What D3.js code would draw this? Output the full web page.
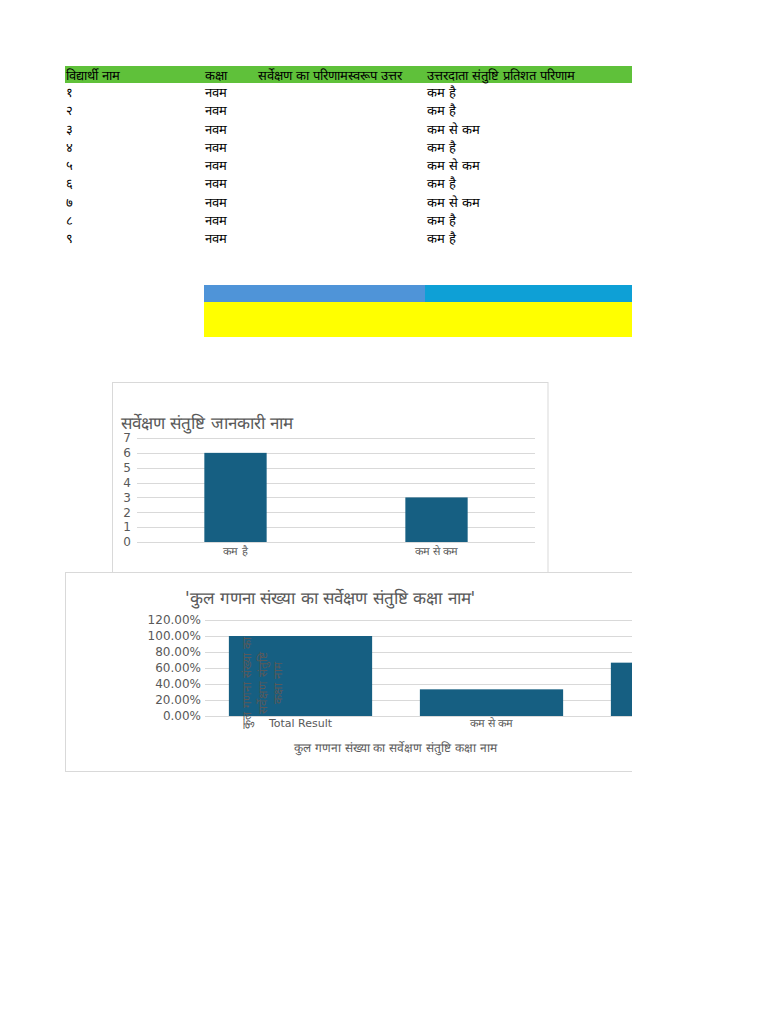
<!DOCTYPE html>
<html>
<head>
<meta charset="utf-8">
<script src="https://cdn.jsdelivr.net/npm/d3@7"></script>
<style>
  html, body { margin: 0; padding: 0; background: #fff; }
  svg { display: block; font-family: "DejaVu Sans", sans-serif; }
</style>
</head>
<body>
<script>
// ---------- data ----------
const headerTexts = ["विद्यार्थी नाम", "कक्षा", "सर्वेक्षण का परिणामस्वरूप उत्तर", "उत्तरदाता संतुष्टि प्रतिशत परिणाम"];
const rowNumbers = ["१", "२", "३", "४", "५", "६", "७", "८", "९"];
const rowClasses = ["नवम", "नवम", "नवम", "नवम", "नवम", "नवम", "नवम", "नवम", "नवम"];
const rowResponses = ["कम है", "कम है", "कम से कम", "कम है", "कम से कम", "कम है", "कम से कम", "कम है", "कम है"];

const chart1Title = "सर्वेक्षण संतुष्टि जानकारी नाम";
const chart1Categories = ["कम है", "कम से कम"];
const chart1Values = [6, 3];
const chart1Ticks = [0, 1, 2, 3, 4, 5, 6, 7];

const chart2Title = "'कुल गणना संख्या का सर्वेक्षण संतुष्टि कक्षा नाम'";
const chart2Categories = ["Total Result", "कम से कम", "कम है"];
const chart2Values = [1.0, 0.3333, 0.6667];
const chart2Ticks = [0, 0.2, 0.4, 0.6, 0.8, 1.0, 1.2];
const chart2AxisTitle = "कुल गणना संख्या का सर्वेक्षण संतुष्टि कक्षा नाम";
const chart2VerticalLines = ["कुल गणना संख्या का", "सर्वेक्षण संतुष्टि", "कक्षा नाम"];

// ---------- page ----------
const W = 768, H = 1024;
const svg = d3.select("body").append("svg").attr("width", W).attr("height", H);
const defs = svg.append("defs");
defs.append("clipPath").attr("id", "page").append("rect").attr("x", 0).attr("y", 0).attr("width", 632).attr("height", H);
const page = svg.append("g").attr("clip-path", "url(#page)");

// ---------- table ----------
const colX = [66, 205, 258, 427];
const colEnd = [203, 256, 425, 632];
colX.forEach((x, i) => {
  defs.append("clipPath").attr("id", "col" + i).append("rect")
    .attr("x", x - 2).attr("y", 0).attr("width", colEnd[i] - x + 2).attr("height", H);
});
page.append("rect").attr("x", 65).attr("y", 66).attr("width", 567).attr("height", 17).attr("fill", "#5fc13a");
headerTexts.forEach((t, i) => {
  page.append("text").attr("clip-path", `url(#col${i})`)
    .attr("x", colX[i]).attr("y", 80).attr("font-size", 13).attr("fill", "#000").text(t);
});
const rowY = d3.scaleLinear().domain([0, 8]).range([97, 243]);
rowNumbers.forEach((d, i) => {
  const y = rowY(i);
  page.append("text").attr("x", colX[0]).attr("y", y).attr("font-size", 13).text(d);
  page.append("text").attr("x", colX[1]).attr("y", y).attr("font-size", 13).text(rowClasses[i]);
  page.append("text").attr("x", colX[3]).attr("y", y).attr("font-size", 13).text(rowResponses[i]);
});

// coloured bands
page.append("rect").attr("x", 204).attr("y", 285).attr("width", 221).attr("height", 17).attr("fill", "#4f94d8");
page.append("rect").attr("x", 425).attr("y", 285).attr("width", 207).attr("height", 17).attr("fill", "#0ea0d6");
page.append("rect").attr("x", 204).attr("y", 302).attr("width", 428).attr("height", 35).attr("fill", "#ffff00");

const barColor = "#165f82";
const gridColor = "#d9d9d9";
const textColor = "#595959";

// ---------- chart 1 ----------
const c1 = page.append("g");
c1.append("rect").attr("x", 112.5).attr("y", 382.5).attr("width", 435.5).attr("height", 190)
  .attr("fill", "#fff").attr("stroke", gridColor);
c1.append("text").attr("x", 121).attr("y", 429).attr("font-size", 17).attr("fill", textColor).text(chart1Title);
const x1 = d3.scaleBand().domain(chart1Categories).range([137, 535]).paddingInner(0.69).paddingOuter(0.335);
const y1 = d3.scaleLinear().domain([0, 7]).range([542, 438]);
c1.append("g").selectAll("line").data(chart1Ticks).join("line")
  .attr("x1", 137).attr("x2", 535).attr("y1", d => Math.round(y1(d)) + 0.5).attr("y2", d => Math.round(y1(d)) + 0.5)
  .attr("stroke", gridColor);
const ax1 = d3.axisLeft(y1).tickValues(chart1Ticks).tickSize(0).tickPadding(6).tickFormat(d3.format("d"));
c1.append("g").attr("transform", "translate(137,0)").call(ax1)
  .call(g => g.select(".domain").remove())
  .call(g => g.selectAll("text").attr("fill", textColor).attr("font-size", 12).attr("font-family", "DejaVu Sans"));
c1.append("g").selectAll("rect").data(chart1Values).join("rect")
  .attr("x", (d, i) => x1(chart1Categories[i])).attr("width", x1.bandwidth())
  .attr("y", d => y1(d)).attr("height", d => y1(0) - y1(d)).attr("fill", barColor);
const bx1 = d3.axisBottom(x1).tickSize(0).tickPadding(5);
c1.append("g").attr("transform", "translate(0,542)").call(bx1)
  .call(g => g.select(".domain").remove())
  .call(g => g.selectAll("text").attr("fill", textColor).attr("font-size", 11).attr("font-family", "DejaVu Sans"));

// ---------- chart 2 ----------
const c2 = page.append("g");
c2.append("rect").attr("x", 65.5).attr("y", 572.5).attr("width", 700).attr("height", 199)
  .attr("fill", "#fff").attr("stroke", gridColor);
c1.raise();
c2.append("text").attr("x", 185).attr("y", 604).attr("font-size", 17).attr("fill", textColor).text(chart2Title);
const x2 = d3.scaleBand().domain(chart2Categories).range([205, 778]).paddingInner(0.25).paddingOuter(0.125);
const y2 = d3.scaleLinear().domain([0, 1.2]).range([716, 620]);
c2.append("g").selectAll("line").data(chart2Ticks).join("line")
  .attr("x1", 205).attr("x2", 780).attr("y1", d => Math.round(y2(d)) + 0.5).attr("y2", d => Math.round(y2(d)) + 0.5)
  .attr("stroke", gridColor);
const ax2 = d3.axisLeft(y2).tickValues(chart2Ticks).tickSize(0).tickPadding(4).tickFormat(d3.format(".2%"));
c2.append("g").attr("transform", "translate(205,0)").call(ax2)
  .call(g => g.select(".domain").remove())
  .call(g => g.selectAll("text").attr("fill", textColor).attr("font-size", 12).attr("font-family", "DejaVu Sans"));
c2.append("g").selectAll("rect").data(chart2Values).join("rect")
  .attr("x", (d, i) => x2(chart2Categories[i])).attr("width", x2.bandwidth())
  .attr("y", d => y2(d)).attr("height", d => y2(0) - y2(d)).attr("fill", barColor);
const bx2 = d3.axisBottom(x2).tickSize(0).tickPadding(3);
c2.append("g").attr("transform", "translate(0,716)").call(bx2)
  .call(g => g.select(".domain").remove())
  .call(g => g.selectAll("text").attr("fill", textColor).attr("font-size", 11).attr("font-family", "DejaVu Sans"));
c2.append("text").attr("x", 294).attr("y", 752).attr("font-size", 12).attr("fill", textColor).text(chart2AxisTitle);
chart2VerticalLines.forEach((t, i) => {
  c2.append("text").attr("transform", `translate(${251 + i * 15.5},683) rotate(-90)`)
    .attr("text-anchor", "middle").attr("font-size", 12).attr("fill", textColor).text(t);
});
</script>
</body>
</html>
